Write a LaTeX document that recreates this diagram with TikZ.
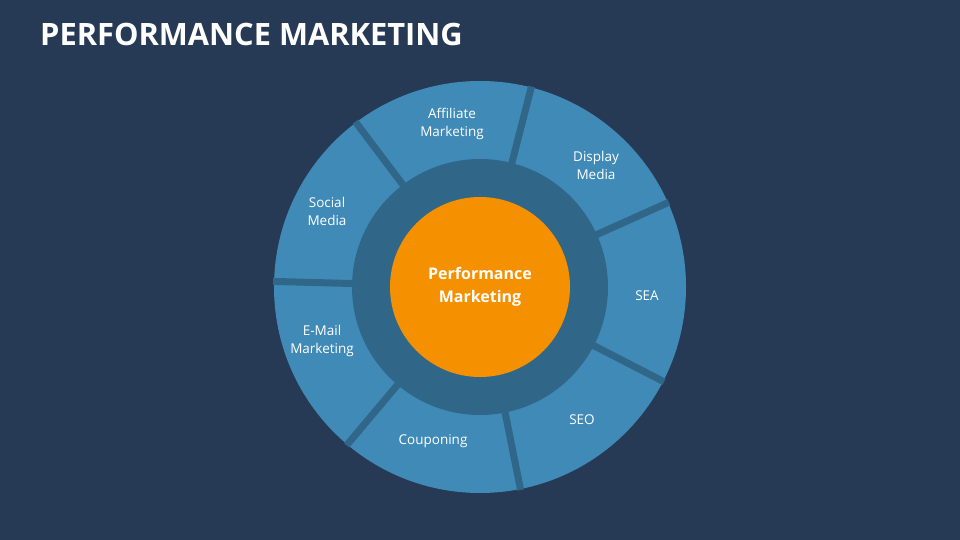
\documentclass[tikz,border=0pt]{standalone}
\usetikzlibrary{calc}
\usepackage{fontspec}
\setmainfont{Open Sans}
\definecolor{bg}{HTML}{263A55}
\definecolor{seg}{HTML}{408AB8}
\definecolor{ring}{HTML}{306789}
\definecolor{org}{HTML}{F59100}
\begin{document}
\begin{tikzpicture}[x=1pt,y=1pt,
  lbl/.style={text=white,align=center,font=\fontsize{13.5}{18}\selectfont},
  gapline/.style={ring,line width=7}]
\fill[bg] (0,0) rectangle (960,540);
\useasboundingbox (0,0) rectangle (960,540);
\node[anchor=base west,text=white,font=\fontsize{30.8}{36}\selectfont\bfseries,inner sep=0] (title) at (40,494) {PERFORMANCE MARKETING};
\coordinate (c) at (480,253);
\fill[seg] (c) circle (206);
\foreach \i in {0,...,6}{
  \draw[gapline] ($(c)+({75.6-\i*51.43}:110)$) -- ($(c)+({75.6-\i*51.43}:207)$);
}
\fill[ring] (c) circle (128);
\fill[org] (c) circle (90);
\node[text=white,align=center,font=\fontsize{16}{23}\selectfont\bfseries] (pm) at (c) {Performance\\Marketing};
\node[lbl] (aff) at (452,416) {Affiliate\\Marketing};
\node[lbl] (disp) at (596,375) {Display\\Media};
\node[lbl] (sea) at (647,244) {SEA};
\node[lbl] (seo) at (582,120) {SEO};
\node[lbl] (coup) at (433,99) {Couponing};
\node[lbl] (mail) at (322,199) {E-Mail\\Marketing};
\node[lbl] (soc) at (327,329) {Social\\Media};
\end{tikzpicture}
\end{document}
